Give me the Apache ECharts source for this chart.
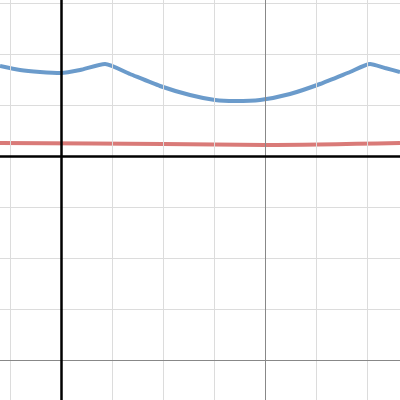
<!DOCTYPE html><html><head><script src="https://cdn.jsdelivr.net/npm/echarts@6/dist/echarts.min.js"></script></head><body style="margin:0"><div id="c" style="width:400px;height:400px"></div><script>
const blueX=[-1.196,-0.804,-0.412,0,0.373,0.863,1.353,1.941,2.529,3.02,3.412,3.902,4.49,5.078,5.667,6.059,6.353,6.647];
const blueY=[1.765,1.686,1.647,1.627,1.686,1.804,1.608,1.373,1.196,1.098,1.078,1.098,1.216,1.412,1.647,1.804,1.725,1.647];
const redX=[-1.196,2,4,6.647];
const redY=[0.255,0.235,0.216,0.255];
const gridX=[-1,1,2,3,5,6];
const gridY=[3,2,1,-1,-2,-3,-5];
const ch=echarts.init(document.getElementById('c'));
const ml=[];
gridX.forEach(v=>ml.push({xAxis:v,lineStyle:{color:'#dcdcdc',width:1,type:'solid'}}));
gridY.forEach(v=>ml.push({yAxis:v,lineStyle:{color:'#dcdcdc',width:1,type:'solid'}}));
ml.push({xAxis:4,lineStyle:{color:'#888',width:1,type:'solid'}},{yAxis:-4,lineStyle:{color:'#888',width:1,type:'solid'}},
{xAxis:0,lineStyle:{color:'#000',width:2.5,type:'solid'}},{yAxis:0,lineStyle:{color:'#000',width:2.5,type:'solid'}});
ch.setOption({animation:false,
grid:{left:0,right:0,top:0,bottom:0,containLabel:false},
xAxis:{type:'value',min:-1.196,max:6.647,axisLine:{show:false},axisTick:{show:false},axisLabel:{show:false},splitLine:{show:false}},
yAxis:{type:'value',min:-4.784,max:3.059,axisLine:{show:false},axisTick:{show:false},axisLabel:{show:false},splitLine:{show:false}},
series:[
{type:'line',data:[],markLine:{silent:true,symbol:'none',label:{show:false},data:ml}},
{type:'line',smooth:0.3,symbol:'none',data:redX.map((x,i)=>[x,redY[i]]),lineStyle:{color:'#d97a78',width:4}},
{type:'line',smooth:0.2,symbol:'none',data:blueX.map((x,i)=>[x,blueY[i]]),lineStyle:{color:'#6b9bcb',width:4}}
]});
</script></body></html>
